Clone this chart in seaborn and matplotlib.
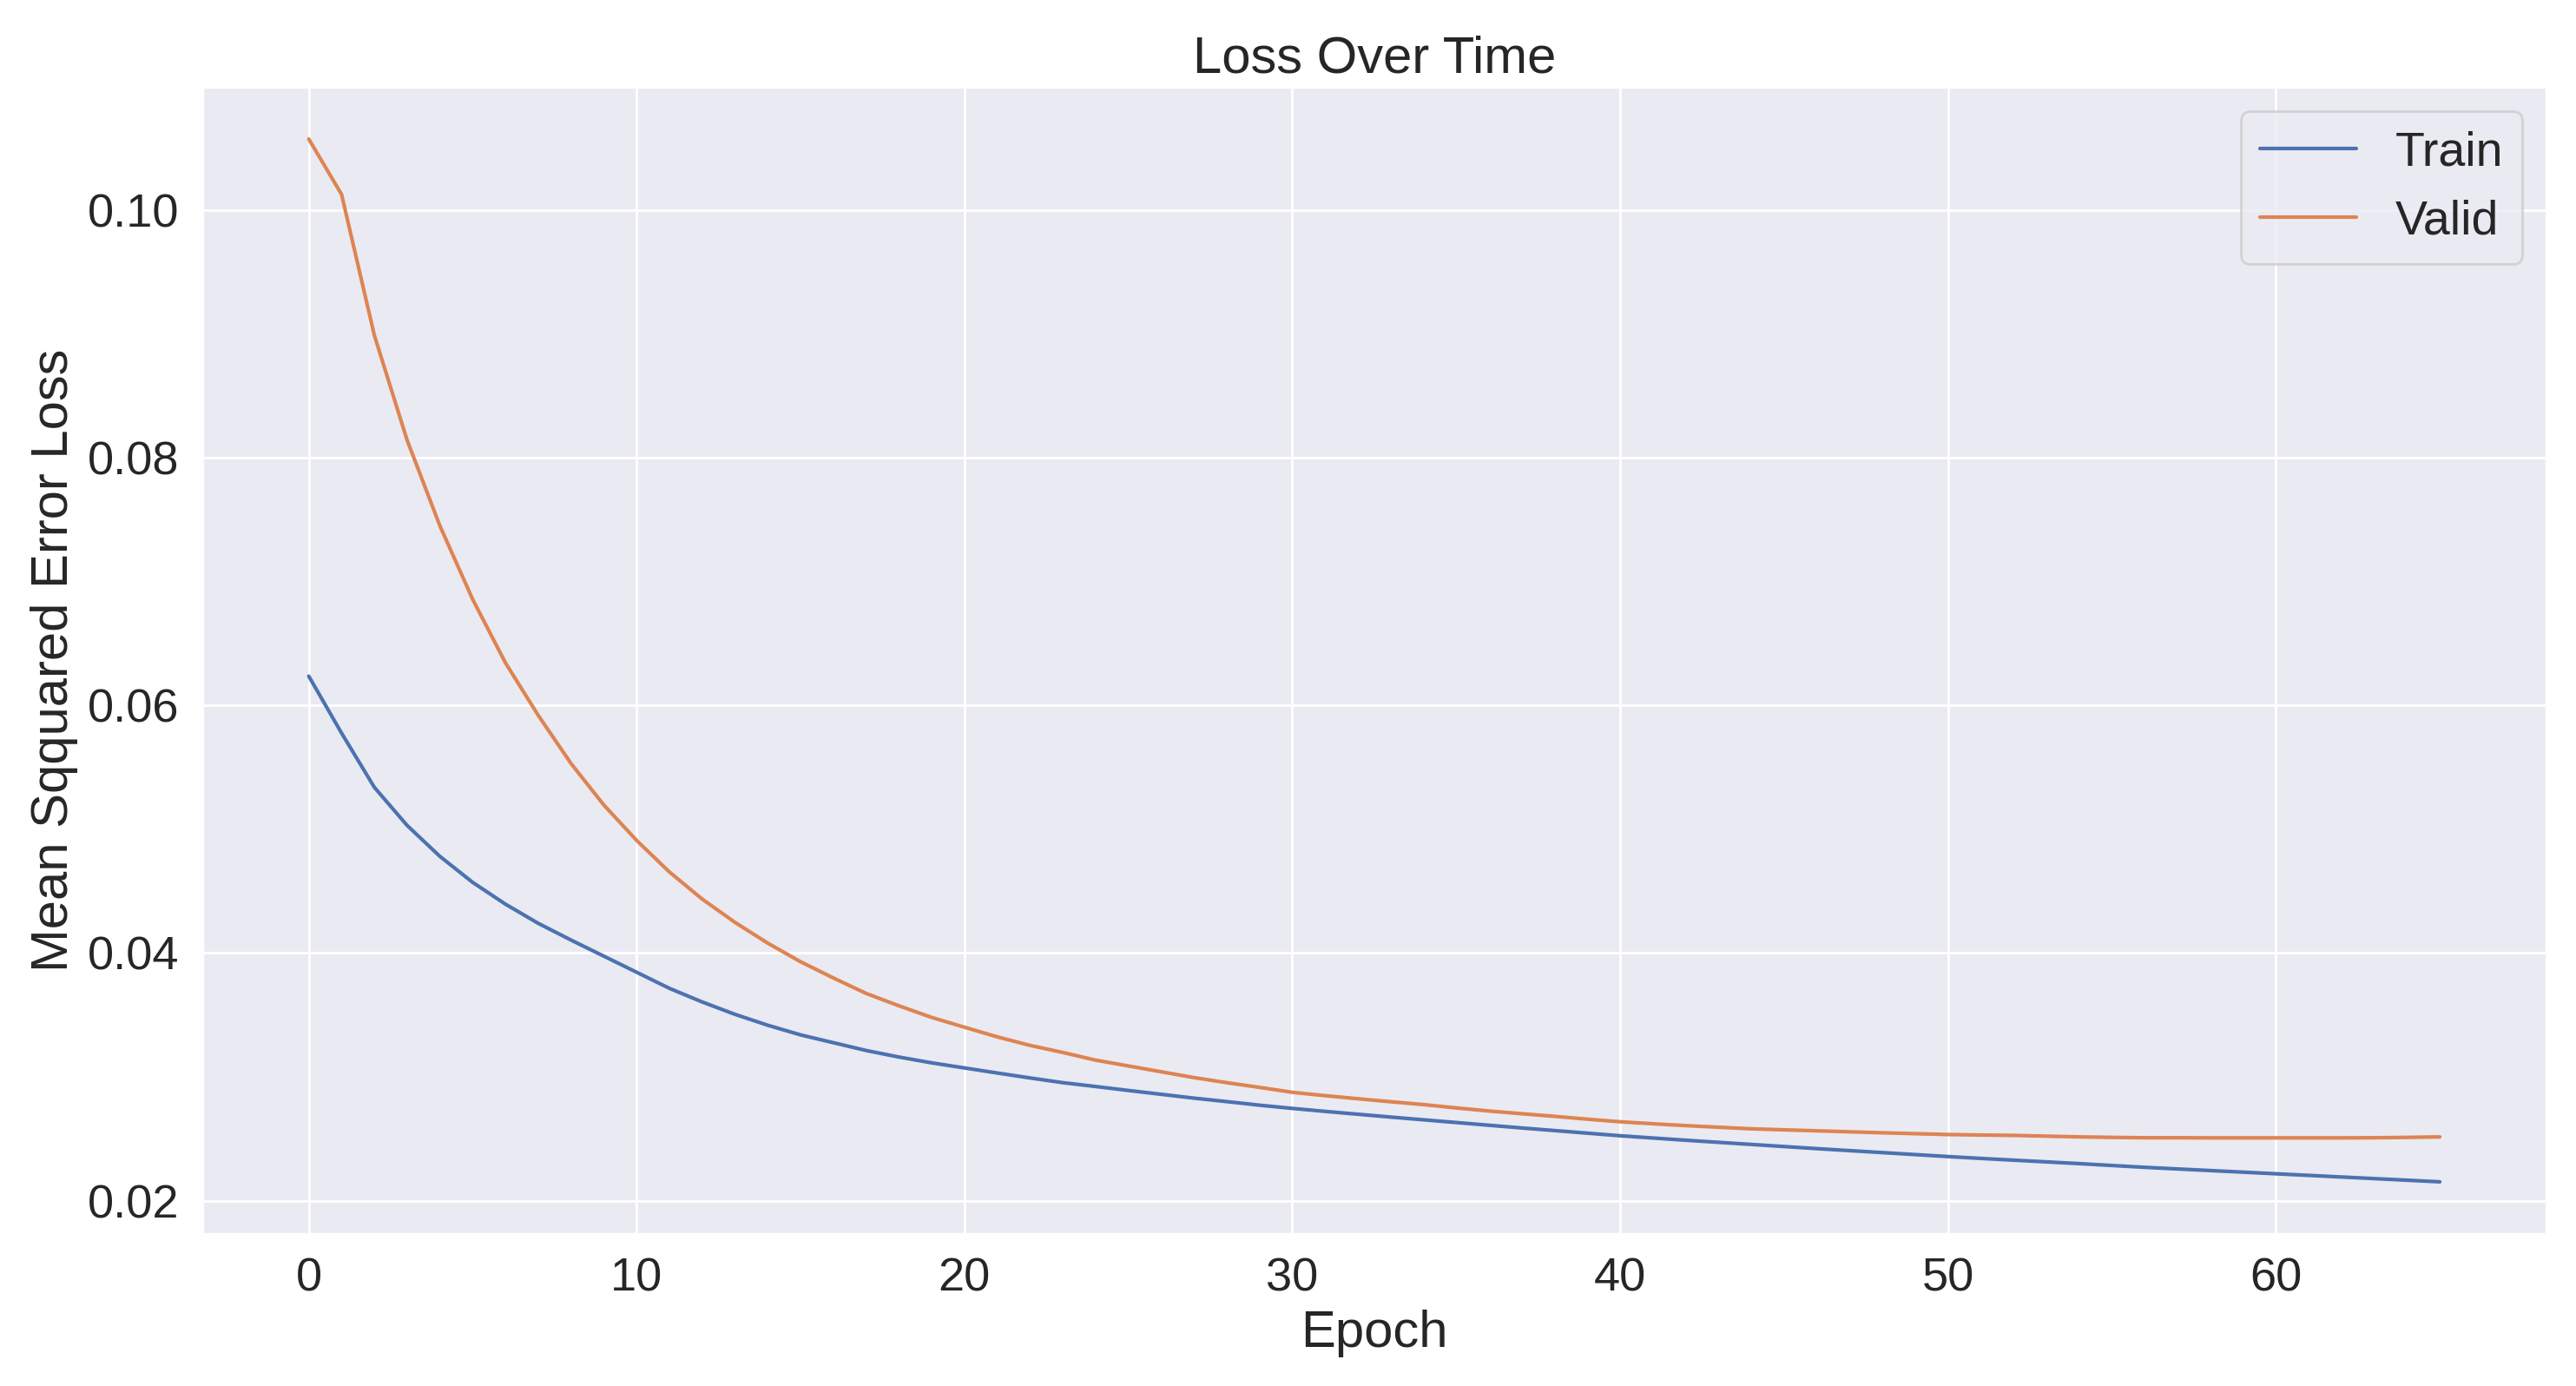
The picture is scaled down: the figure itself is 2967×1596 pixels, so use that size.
import pandas as pd
import numpy as np
import seaborn as sns
import matplotlib.pyplot as plt

####

epochs = list(range(66))

train_loss = [
    0.06237, 0.05777, 0.05339, 0.05031, 0.04781, 0.04571, 0.04395, 0.04240,
    0.04105, 0.03975, 0.03845, 0.03715, 0.03605, 0.03505, 0.03417, 0.03339,
    0.03276, 0.03213, 0.03160, 0.03113, 0.03072, 0.03031, 0.02991, 0.02953,
    0.02922, 0.02890, 0.02859, 0.02828, 0.02800, 0.02771, 0.02745, 0.02721,
    0.02698, 0.02675, 0.02653, 0.02631, 0.02609, 0.02587, 0.02566, 0.02545,
    0.02524, 0.02506, 0.02488, 0.02471, 0.02454, 0.02437, 0.02420, 0.02404,
    0.02388, 0.02372, 0.02356, 0.02341, 0.02327, 0.02313, 0.02299, 0.02284,
    0.02269, 0.02256, 0.02243, 0.02230, 0.02217, 0.02204, 0.02191, 0.02178,
    0.02165, 0.02152,
]

valid_loss = [
    0.10576, 0.10129, 0.08991, 0.08143, 0.07451, 0.06857, 0.06344, 0.05920,
    0.05531, 0.05196, 0.04910, 0.04655, 0.04436, 0.04248, 0.04080, 0.03930,
    0.03799, 0.03674, 0.03574, 0.03480, 0.03401, 0.03323, 0.03254, 0.03197,
    0.03135, 0.03088, 0.03041, 0.02994, 0.02953, 0.02915, 0.02875, 0.02848,
    0.02823, 0.02799, 0.02776, 0.02749, 0.02724, 0.02702, 0.02681, 0.02658,
    0.02637, 0.02621, 0.02606, 0.02593, 0.02580, 0.02572, 0.02564, 0.02556,
    0.02548, 0.02541, 0.02534, 0.02530, 0.02527, 0.02521, 0.02515, 0.02511,
    0.02508, 0.02508, 0.02507, 0.02507, 0.02507, 0.02507, 0.02507, 0.02508,
    0.02511, 0.02515,
]

sns.set_theme(style='darkgrid', palette='deep')
plt.rcParams['font.family'] = ['Liberation Sans', 'DejaVu Sans']

df = pd.DataFrame({'Epoch': epochs, 'Train': train_loss, 'Valid': valid_loss})

fig, ax = plt.subplots(figsize=(14.835, 7.98), dpi=200)
fig.subplots_adjust(left=0.0785, right=0.9885, bottom=0.1097, top=0.9373)

# one line per series
sns.lineplot(data=df, x='Epoch', y='Train', label='Train', ax=ax, linewidth=1.5)
sns.lineplot(data=df, x='Epoch', y='Valid', label='Valid', ax=ax, linewidth=1.5)

ax.set_title('Loss Over Time', fontsize=21.5)
ax.set_xlabel('Epoch', fontsize=21.5)
ax.set_ylabel('Mean Sqquared Error Loss', fontsize=21.5)
ax.set_xticks([0, 10, 20, 30, 40, 50, 60])
ax.set_yticks([0.02, 0.04, 0.06, 0.08, 0.10])
ax.tick_params(labelsize=19.5)
ax.legend(loc='upper right', fontsize=20)

plt.savefig('out.png', dpi=200)
